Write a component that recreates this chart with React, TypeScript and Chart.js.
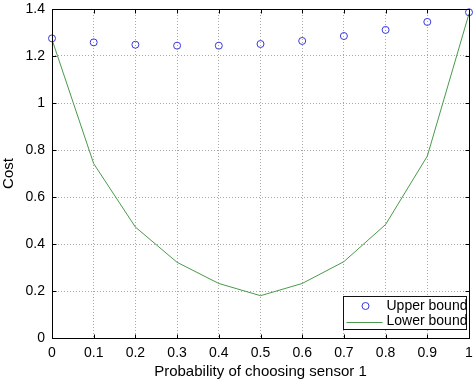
import React, { useEffect, useRef } from "react";
import { Chart, registerables } from "chart.js";

Chart.register(...registerables);

const xValues = [0, 0.1, 0.2, 0.3, 0.4, 0.5, 0.6, 0.7, 0.8, 0.9, 1];
const upperBound = [1.275, 1.258, 1.248, 1.244, 1.244, 1.251, 1.264, 1.285, 1.311, 1.345, 1.386];
const lowerBound = [1.27, 0.742, 0.472, 0.322, 0.232, 0.18, 0.232, 0.325, 0.483, 0.774, 1.38];
const seriesLabels = ["Upper bound", "Lower bound"];
const xTitle = "Probability of choosing sensor 1";
const yTitle = "Cost";

const BLUE = "#3838dc";
const GREEN = "#4a9a4a";
const FONT = "'Liberation Sans', Arial, Helvetica, sans-serif";

export default function App() {
  const ref = useRef<HTMLCanvasElement>(null);

  useEffect(() => {
    document.body.style.margin = "0";
    const canvas = ref.current!;

    const framePlugin = {
      id: "frame",
      afterDraw(chart: any) {
        const ctx = chart.ctx;
        const { left, right, top, bottom } = chart.chartArea;
        const L = Math.round(left) + 0.5;
        const R = Math.round(right) + 0.5;
        const T = Math.round(top) + 0.5;
        const B = Math.round(bottom) + 0.5;
        ctx.save();
        ctx.strokeStyle = "#000";
        ctx.lineWidth = 1;
        ctx.strokeRect(L, T, R - L, B - T);
        const xs = chart.scales.x;
        const ys = chart.scales.y;
        ctx.beginPath();
        xs.ticks.forEach((t: any) => {
          const px = Math.round(xs.getPixelForValue(t.value)) + 0.5;
          ctx.moveTo(px, B);
          ctx.lineTo(px, B - 4);
          ctx.moveTo(px, T);
          ctx.lineTo(px, T + 4);
        });
        ys.ticks.forEach((t: any) => {
          const py = Math.round(ys.getPixelForValue(t.value)) + 0.5;
          ctx.moveTo(L, py);
          ctx.lineTo(L + 4, py);
          ctx.moveTo(R, py);
          ctx.lineTo(R - 4, py);
        });
        ctx.stroke();

        // legend
        const bw = 123;
        const bh = 33;
        const bx = Math.round(right) - 3 - bw + 0.5;
        const by = Math.round(bottom) - 9 - bh + 0.5;
        ctx.fillStyle = "#fff";
        ctx.fillRect(bx, by, bw, bh);
        ctx.strokeStyle = "#111";
        ctx.strokeRect(bx, by, bw, bh);
        const row1 = by + 9.5;
        const row2 = by + 25;
        ctx.strokeStyle = BLUE;
        ctx.beginPath();
        ctx.arc(bx + 22, row1, 3.5, 0, Math.PI * 2);
        ctx.stroke();
        ctx.strokeStyle = GREEN;
        ctx.beginPath();
        ctx.moveTo(bx + 3, Math.round(row2) + 0.5);
        ctx.lineTo(bx + 39, Math.round(row2) + 0.5);
        ctx.stroke();
        ctx.fillStyle = "#000";
        ctx.font = `14px ${FONT}`;
        ctx.textBaseline = "middle";
        ctx.textAlign = "left";
        ctx.fillText(seriesLabels[0], bx + 43, row1);
        ctx.fillText(seriesLabels[1], bx + 43, row2);
        ctx.restore();
      },
    };

    const fmt = (v: any) => String(Number(Number(v).toFixed(1)));

    const chart = new Chart(canvas, {
      type: "scatter",
      data: {
        datasets: [
          {
            label: seriesLabels[0],
            data: xValues.map((x, i) => ({ x, y: upperBound[i] })),
            showLine: false,
            pointStyle: "circle",
            pointRadius: 3.5,
            pointBorderWidth: 1,
            pointBorderColor: BLUE,
            pointBackgroundColor: "rgba(0,0,0,0)",
            borderColor: BLUE,
            clip: false,
          },
          {
            label: seriesLabels[1],
            data: xValues.map((x, i) => ({ x, y: lowerBound[i] })),
            showLine: true,
            borderColor: GREEN,
            borderWidth: 1,
            pointRadius: 0,
            tension: 0,
          },
        ],
      },
      options: {
        responsive: false,
        animation: false,
        devicePixelRatio: 1,
        layout: { padding: { top: 9, right: 4, left: 0, bottom: 0 } },
        plugins: { legend: { display: false }, tooltip: { enabled: false } },
        scales: {
          x: {
            type: "linear",
            min: 0,
            max: 1,
            afterFit: (s: any) => {
              s.height = 43;
              s.paddingLeft = 0;
              s.paddingRight = 0;
            },
            ticks: {
              stepSize: 0.1,
              autoSkip: false,
              maxRotation: 0,
              padding: 7,
              color: "#000",
              font: { family: FONT, size: 14 },
              callback: (v: any) => fmt(v),
            },
            grid: {
              color: "#a8a8a8",
              drawTicks: false,
            },
            border: { display: false, dash: [1, 2] },
            title: {
              display: true,
              text: xTitle,
              color: "#000",
              font: { family: FONT, size: 15 },
              padding: { top: 0, bottom: 0 },
            },
          },
          y: {
            type: "linear",
            min: 0,
            max: 1.4,
            afterFit: (s: any) => {
              s.width = 52;
              s.paddingTop = 0;
              s.paddingBottom = 0;
            },
            ticks: {
              stepSize: 0.2,
              padding: 7,
              color: "#000",
              font: { family: FONT, size: 14 },
              callback: (v: any) => fmt(v),
            },
            grid: {
              color: "#a8a8a8",
              drawTicks: false,
            },
            border: { display: false, dash: [1, 2] },
            title: {
              display: true,
              text: yTitle,
              color: "#000",
              font: { family: FONT, size: 15 },
              padding: { top: 0, bottom: 0 },
            },
          },
        },
      },
      plugins: [framePlugin],
    } as any);

    return () => chart.destroy();
  }, []);

  return <canvas ref={ref} width={474} height={381} style={{ display: "block" }} />;
}
